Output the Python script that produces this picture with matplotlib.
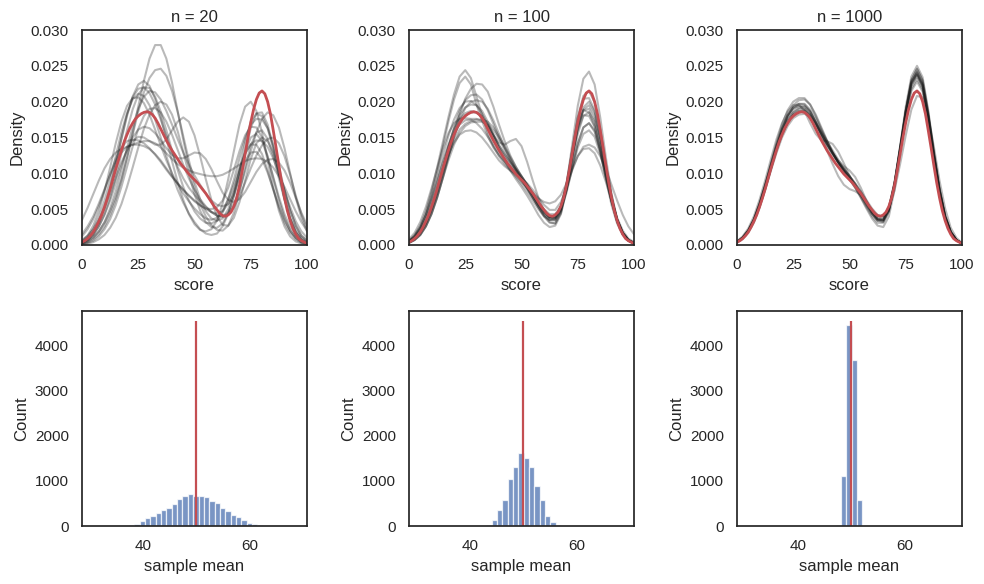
import numpy as np
import matplotlib
matplotlib.use("Agg")
import matplotlib.pyplot as plt
import seaborn as sns

# ---------------- data ----------------
sample_sizes = [20, 100, 1000]

DENSITY_UNIT = 1e-4  # all density values below are stored in units of 1e-4

# population density (red), read at score 0..100 in steps of 1.25
population_grid = np.linspace(0, 100, 81)
population_density = [4, 6, 9, 13, 18, 25, 33, 42, 53, 65,
                      78, 92, 106, 119, 132, 144, 154, 163, 170, 176,
                      180, 183, 185, 186, 185, 182, 177, 170, 162, 154,
                      146, 139, 132, 126, 120, 114, 109, 104, 99, 95,
                      91, 87, 82, 77, 72, 66, 60, 54, 49, 44,
                      41, 40, 42, 46, 54, 66, 83, 104, 127, 150,
                      171, 189, 203, 212, 215, 211, 200, 183, 160, 136,
                      111, 87, 66, 48, 34, 23, 15, 9, 6, 4,
                      2]

# KDE curves of individual samples, read at score 0..100 in steps of 2.5
score_grid = np.linspace(0, 100, 41)

kde_n20 = [
    [3, 6, 11, 19, 31, 47, 67, 92, 122, 156, 193, 229, 260, 279, 279, 260, 227, 187, 147, 110, 80, 57, 40, 28, 21, 20, 27, 45, 74, 108, 139, 157, 160, 148, 124, 93, 63, 38, 21, 10, 4],
    [2, 4, 8, 15, 26, 42, 63, 90, 121, 154, 186, 213, 233, 244, 246, 236, 215, 186, 152, 118, 88, 64, 47, 37, 34, 37, 50, 74, 102, 127, 140, 140, 127, 104, 77, 52, 31, 17, 8, 3, 1],
    [4, 9, 18, 32, 53, 80, 112, 147, 180, 207, 224, 229, 222, 204, 178, 148, 117, 88, 63, 43, 29, 21, 19, 22, 34, 58, 92, 131, 168, 193, 200, 187, 157, 118, 80, 48, 26, 12, 5, 2, 1],
    [3, 7, 14, 26, 43, 66, 95, 127, 160, 189, 210, 220, 219, 207, 186, 160, 132, 105, 81, 62, 47, 37, 31, 30, 34, 45, 64, 91, 121, 149, 168, 176, 175, 163, 140, 109, 77, 48, 27, 13, 6],
    [2, 5, 10, 19, 32, 51, 75, 104, 135, 165, 190, 207, 215, 213, 203, 187, 168, 148, 129, 112, 97, 84, 72, 62, 56, 54, 57, 70, 95, 129, 163, 184, 185, 168, 137, 100, 65, 37, 18, 8, 3],
    [7, 13, 22, 35, 52, 72, 94, 115, 132, 145, 151, 150, 145, 140, 140, 147, 160, 172, 178, 172, 153, 124, 92, 63, 40, 28, 27, 38, 60, 90, 120, 142, 150, 145, 129, 104, 75, 48, 27, 13, 6],
    [35, 52, 71, 90, 107, 120, 129, 134, 137, 140, 143, 145, 145, 142, 136, 128, 120, 113, 108, 104, 101, 99, 97, 96, 96, 98, 102, 107, 112, 117, 120, 121, 120, 116, 108, 96, 81, 64, 47, 32, 20],
    [12, 22, 36, 54, 76, 99, 120, 136, 145, 147, 146, 142, 135, 126, 116, 105, 95, 86, 77, 69, 61, 55, 51, 50, 53, 62, 80, 105, 131, 153, 165, 164, 150, 124, 93, 63, 38, 20, 10, 4, 2],
    [5, 11, 22, 39, 62, 91, 124, 157, 184, 203, 211, 208, 195, 175, 150, 124, 99, 77, 59, 44, 32, 22, 16, 14, 16, 26, 44, 68, 95, 117, 129, 130, 120, 101, 78, 55, 35, 20, 10, 4, 2],
    [1, 3, 6, 12, 22, 36, 56, 81, 109, 137, 162, 180, 190, 191, 185, 172, 154, 133, 112, 93, 77, 64, 54, 46, 41, 40, 45, 57, 77, 103, 131, 157, 176, 185, 181, 164, 135, 100, 66, 38, 19],
    [3, 7, 14, 26, 42, 62, 86, 111, 133, 150, 161, 165, 163, 156, 146, 135, 126, 121, 121, 125, 129, 128, 120, 106, 89, 73, 63, 60, 64, 74, 88, 102, 113, 119, 120, 115, 104, 87, 66, 45, 28],
    [1, 2, 4, 8, 14, 24, 38, 57, 81, 108, 136, 162, 182, 195, 200, 196, 182, 159, 130, 99, 71, 48, 32, 25, 24, 30, 44, 69, 104, 143, 172, 183, 180, 163, 134, 99, 65, 37, 18, 8, 3],
    [15, 26, 40, 58, 78, 98, 116, 129, 137, 140, 140, 138, 134, 127, 118, 107, 96, 86, 77, 69, 62, 56, 50, 46, 44, 47, 58, 78, 104, 130, 150, 155, 145, 123, 95, 67, 43, 25, 13, 6, 3],
    [6, 13, 27, 47, 75, 108, 142, 172, 194, 205, 206, 198, 182, 161, 139, 118, 100, 85, 72, 61, 51, 43, 37, 35, 38, 48, 64, 85, 108, 128, 141, 146, 145, 137, 121, 100, 76, 53, 33, 19, 10],
    [4, 8, 16, 30, 51, 79, 113, 149, 182, 206, 218, 220, 212, 196, 175, 152, 129, 109, 93, 80, 70, 61, 53, 46, 41, 39, 43, 53, 68, 87, 107, 125, 139, 148, 150, 142, 124, 98, 69, 43, 23],
]

kde_n100 = [
    [6, 14, 27, 47, 75, 108, 143, 178, 210, 235, 244, 233, 207, 181, 157, 138, 124, 113, 104, 95, 85, 74, 62, 50, 40, 35, 38, 54, 84, 124, 164, 192, 200, 186, 152, 108, 67, 36, 17, 7, 3],
    [5, 12, 24, 43, 70, 102, 137, 172, 203, 226, 235, 224, 196, 173, 152, 136, 125, 117, 109, 100, 90, 79, 67, 55, 45, 39, 40, 53, 78, 110, 142, 164, 170, 160, 133, 98, 63, 35, 17, 7, 3],
    [3, 7, 14, 26, 43, 66, 94, 124, 154, 182, 204, 218, 225, 224, 214, 193, 168, 145, 125, 109, 96, 84, 71, 57, 44, 35, 34, 47, 77, 116, 155, 180, 185, 172, 142, 103, 65, 35, 17, 7, 2],
    [4, 9, 18, 32, 52, 77, 106, 136, 164, 187, 202, 209, 210, 203, 188, 169, 149, 132, 117, 104, 92, 80, 67, 53, 40, 31, 30, 46, 84, 139, 194, 232, 242, 224, 178, 122, 72, 36, 16, 6, 2],
    [5, 12, 24, 42, 66, 94, 124, 152, 175, 191, 200, 201, 195, 183, 168, 153, 139, 127, 116, 106, 96, 85, 73, 60, 48, 39, 38, 51, 82, 123, 163, 189, 195, 181, 148, 106, 66, 35, 17, 7, 2],
    [4, 9, 18, 32, 51, 75, 102, 129, 152, 170, 181, 185, 185, 180, 168, 154, 143, 140, 145, 148, 138, 116, 90, 66, 48, 38, 37, 48, 73, 106, 141, 164, 170, 158, 130, 94, 60, 33, 16, 7, 3],
    [8, 17, 32, 53, 79, 107, 134, 156, 170, 176, 177, 176, 176, 173, 165, 153, 139, 126, 115, 105, 95, 84, 72, 60, 50, 43, 43, 54, 76, 106, 136, 155, 160, 151, 127, 95, 62, 35, 17, 7, 3],
    [4, 9, 17, 30, 48, 71, 98, 124, 146, 161, 169, 173, 175, 175, 172, 164, 152, 138, 123, 109, 96, 83, 70, 57, 46, 38, 36, 50, 84, 131, 177, 204, 205, 188, 152, 107, 66, 34, 15, 6, 2],
    [5, 11, 21, 36, 56, 80, 104, 126, 143, 154, 159, 160, 157, 150, 140, 129, 118, 110, 104, 99, 93, 86, 77, 66, 56, 49, 49, 60, 80, 104, 124, 134, 135, 128, 111, 88, 62, 38, 20, 9, 4],
    [3, 7, 14, 26, 44, 67, 93, 118, 140, 156, 166, 171, 172, 172, 168, 160, 149, 136, 121, 106, 92, 79, 66, 53, 41, 32, 30, 44, 78, 124, 168, 188, 185, 166, 131, 92, 56, 30, 14, 6, 2],
    [3, 8, 16, 30, 50, 76, 106, 136, 162, 181, 192, 196, 195, 187, 172, 154, 135, 118, 104, 92, 81, 69, 56, 42, 31, 25, 27, 43, 76, 121, 164, 188, 190, 175, 142, 100, 61, 32, 15, 6, 2],
    [6, 13, 25, 42, 64, 89, 115, 138, 156, 168, 174, 175, 170, 162, 151, 139, 127, 116, 106, 97, 88, 80, 72, 65, 60, 58, 61, 70, 86, 106, 124, 137, 140, 136, 124, 106, 84, 62, 42, 26, 15],
    [5, 11, 22, 38, 60, 86, 114, 140, 161, 176, 184, 187, 185, 178, 166, 151, 136, 123, 111, 101, 91, 81, 70, 58, 47, 39, 39, 54, 87, 132, 178, 208, 215, 199, 161, 113, 69, 36, 17, 7, 3],
    [3, 7, 14, 26, 43, 66, 93, 122, 150, 174, 191, 200, 202, 200, 190, 174, 155, 136, 119, 104, 91, 79, 66, 53, 42, 35, 35, 49, 80, 121, 160, 181, 180, 165, 135, 97, 61, 33, 15, 6, 2],
]

kde_n1000 = [
    [4, 10, 19, 34, 55, 80, 107, 134, 157, 174, 185, 191, 193, 186, 171, 155, 140, 127, 115, 104, 93, 82, 70, 57, 44, 34, 33, 48, 84, 134, 186, 227, 242, 226, 182, 127, 77, 40, 18, 7, 2],
    [4, 10, 20, 36, 58, 84, 113, 142, 168, 188, 200, 205, 205, 196, 180, 162, 145, 129, 115, 103, 92, 80, 67, 53, 40, 31, 31, 47, 85, 138, 193, 235, 250, 234, 188, 131, 80, 42, 19, 7, 2],
    [4, 10, 19, 33, 53, 77, 103, 128, 150, 166, 177, 182, 183, 179, 168, 155, 141, 128, 116, 106, 96, 85, 73, 60, 49, 41, 40, 53, 86, 132, 180, 218, 232, 217, 175, 122, 74, 38, 17, 7, 2],
    [5, 12, 23, 40, 63, 90, 119, 147, 170, 186, 195, 196, 187, 170, 155, 146, 145, 141, 130, 114, 97, 82, 68, 55, 43, 35, 35, 50, 85, 134, 184, 224, 238, 222, 179, 125, 76, 39, 18, 7, 2],
    [4, 10, 20, 35, 57, 83, 111, 138, 162, 180, 192, 197, 196, 187, 171, 152, 132, 113, 96, 84, 78, 75, 70, 60, 47, 37, 35, 49, 84, 133, 183, 222, 236, 220, 177, 123, 74, 38, 17, 7, 2],
    [4, 9, 19, 34, 55, 81, 109, 137, 161, 180, 192, 197, 197, 189, 176, 160, 144, 129, 115, 103, 92, 80, 66, 51, 37, 27, 25, 40, 77, 130, 186, 230, 246, 230, 185, 129, 78, 40, 18, 7, 2],
    [3, 8, 17, 31, 52, 77, 105, 134, 160, 181, 195, 202, 203, 196, 182, 164, 146, 129, 115, 103, 93, 83, 72, 59, 46, 36, 35, 50, 86, 136, 188, 228, 240, 223, 179, 124, 75, 39, 17, 7, 2],
    [5, 11, 21, 36, 57, 82, 109, 135, 157, 174, 185, 190, 190, 183, 171, 158, 145, 132, 119, 107, 96, 84, 71, 58, 45, 36, 36, 52, 88, 137, 187, 225, 238, 223, 180, 126, 77, 40, 18, 7, 2],
    [4, 10, 19, 34, 54, 79, 106, 132, 154, 171, 182, 187, 188, 182, 170, 155, 141, 128, 116, 106, 96, 86, 74, 61, 48, 39, 38, 52, 86, 132, 180, 215, 228, 214, 173, 121, 74, 39, 18, 7, 2],
    [4, 10, 20, 36, 58, 84, 112, 139, 163, 181, 191, 194, 190, 180, 166, 152, 138, 126, 115, 104, 94, 83, 71, 57, 44, 34, 32, 47, 83, 135, 188, 230, 245, 229, 184, 128, 77, 40, 18, 7, 2],
    [4, 10, 19, 34, 54, 79, 106, 132, 154, 171, 182, 187, 187, 181, 169, 155, 141, 128, 116, 106, 96, 86, 75, 63, 51, 42, 40, 50, 76, 113, 153, 189, 208, 206, 180, 137, 90, 51, 24, 10, 3],
    [4, 10, 20, 35, 56, 82, 110, 137, 160, 178, 189, 194, 194, 186, 172, 157, 142, 129, 118, 110, 104, 95, 80, 62, 46, 36, 34, 49, 84, 134, 186, 226, 240, 224, 180, 126, 76, 39, 18, 7, 2],
]

# histograms of the sample means (bin width 1, left edge of first bin given)
bin_width = 1.0
hist_first_edge_n20 = 37.4
hist_counts_n20 = [21, 38, 100, 170, 215, 285, 353, 400, 492, 607, 677, 700, 677, 677,
                   654, 562, 515, 400, 331, 239, 192, 124, 77, 38, 16, 5]
hist_first_edge_n100 = 43.06
hist_counts_n100 = [15, 133, 356, 578, 1044, 1304, 1622, 1511, 1311, 889, 578, 222, 89, 22]
hist_first_edge_n1000 = 47.07
hist_counts_n1000 = [22, 1102, 4474, 3690, 584]

population_mean = 49.87
mean_line_top = 4550

# ---------------- plotting ----------------
sns.set_theme(style="white")
plt.rcParams['font.family'] = ['Liberation Sans', 'DejaVu Sans']

RED = '#c44e52'
BLUE = sns.color_palette()[0]
fig = plt.figure(figsize=(9.84, 5.84), dpi=100)

col_left = [82 / 984, 409 / 984, 737 / 984]
ax_w = 225 / 984
ax_h = 215 / 584
top_bottom = (584 - 245) / 584
bot_bottom = (584 - 526) / 584

kde_sets = [kde_n20, kde_n100, kde_n1000]
hist_sets = [(hist_first_edge_n20, hist_counts_n20),
             (hist_first_edge_n100, hist_counts_n100),
             (hist_first_edge_n1000, hist_counts_n1000)]

for j, n in enumerate(sample_sizes):
    ax = fig.add_axes([col_left[j], top_bottom, ax_w, ax_h])
    for curve in kde_sets[j]:
        ax.plot(score_grid, np.asarray(curve) * DENSITY_UNIT, color='k', alpha=0.3, lw=1.5)
    ax.plot(population_grid, np.asarray(population_density) * DENSITY_UNIT, color=RED, lw=2)
    ax.set_xlim(0, 100)
    ax.set_ylim(0, 0.03)
    ax.set_xticks([0, 25, 50, 75, 100])
    ax.set_title(f"n = {n}")
    ax.set_xlabel("score")
    ax.set_ylabel("Density")

    first_edge, counts = hist_sets[j]
    left_edges = first_edge + bin_width * np.arange(len(counts))
    axb = fig.add_axes([col_left[j], bot_bottom, ax_w, ax_h])
    axb.bar(left_edges, counts, width=bin_width, align='edge', color=BLUE,
            alpha=0.75, edgecolor='white', linewidth=0.9)
    axb.vlines(population_mean, 0, mean_line_top, color=RED, lw=1.6)
    axb.set_xlim(28.6, 70.7)
    axb.set_ylim(0, mean_line_top * 1.05)
    axb.set_xticks([40, 60])
    axb.set_xlabel("sample mean")
    axb.set_ylabel("Count")

fig.savefig("out.png", dpi=100)
